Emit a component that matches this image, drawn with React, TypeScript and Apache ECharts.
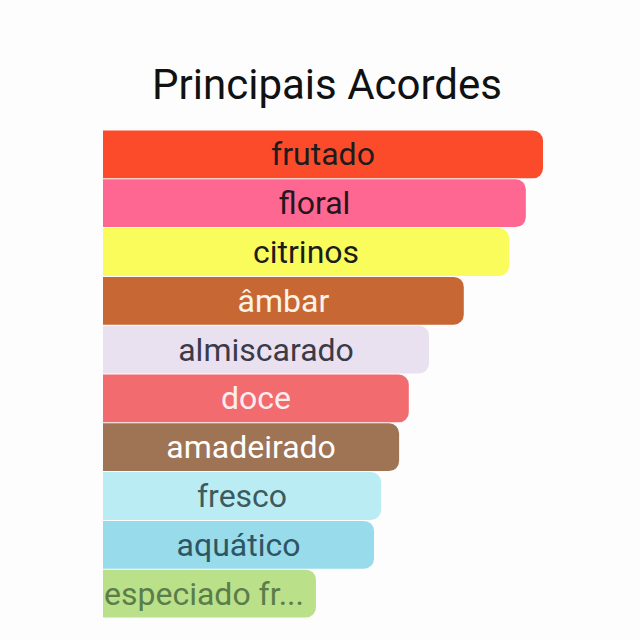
import React, { useEffect, useRef } from "react";
import * as echarts from "echarts";

const accords = [
  "frutado", "floral", "citrinos", "âmbar", "almiscarado",
  "doce", "amadeirado", "fresco", "aquático", "especiado fresco",
];
const strengths = [100, 96.1, 92.3, 82, 74.1, 69.5, 67.3, 63.2, 61.6, 48.4];
const barColors = [
  "#FC4B2A", "#FF6793", "#F9FC5A", "#C76834", "#E9E0F0",
  "#F26B6F", "#9E7454", "#BAEDF3", "#98DCEB", "#BAE08A",
];
const textColors = [
  "#1c1c1c", "#24161c", "#1c1c1c", "#fbf3e6", "#3a3a48",
  "#fdeeee", "#ffffff", "#3d5a5f", "#2f5563", "#5b7d4a",
];

const App: React.FC = () => {
  const chartRef = useRef<HTMLDivElement | null>(null);

  useEffect(() => {
    document.body.style.margin = "0";
    if (!chartRef.current) return;
    const chart = echarts.init(chartRef.current, null, { renderer: "svg" });

    const option = {
      animation: false,
      backgroundColor: "#fdfdfd",
      title: {
        text: "Principais Acordes",
        left: 322,
        textAlign: "center",
        top: 58,
        textStyle: {
          fontFamily: "Roboto",
          fontSize: 42,
          fontWeight: "normal",
          color: "#111111",
        },
      },
      grid: { left: 103, right: 97, top: 130, bottom: 22 },
      xAxis: { type: "value", min: 0, max: 100, show: false },
      yAxis: {
        type: "category",
        inverse: true,
        data: accords,
        show: false,
      },
      series: [
        {
          type: "bar",
          barCategoryGap: "2%",
          data: strengths.map((v, i) => ({
            value: v,
            itemStyle: { color: barColors[i], borderRadius: [0, 10, 10, 0] },
            label: {
              color: textColors[i],
              ...(i === accords.length - 1
                ? { width: 214, overflow: "truncate", ellipsis: "...", position: "insideLeft", distance: 1 }
                : {}),
            },
          })),
          label: {
            show: true,
            position: "inside",
            formatter: "{b}",
            fontFamily: "Roboto",
            fontSize: 32,
          },
        },
      ],
    };

    chart.setOption(option);
    return () => chart.dispose();
  }, []);

  return <div ref={chartRef} style={{ width: 640, height: 640 }} />;
};

export default App;
